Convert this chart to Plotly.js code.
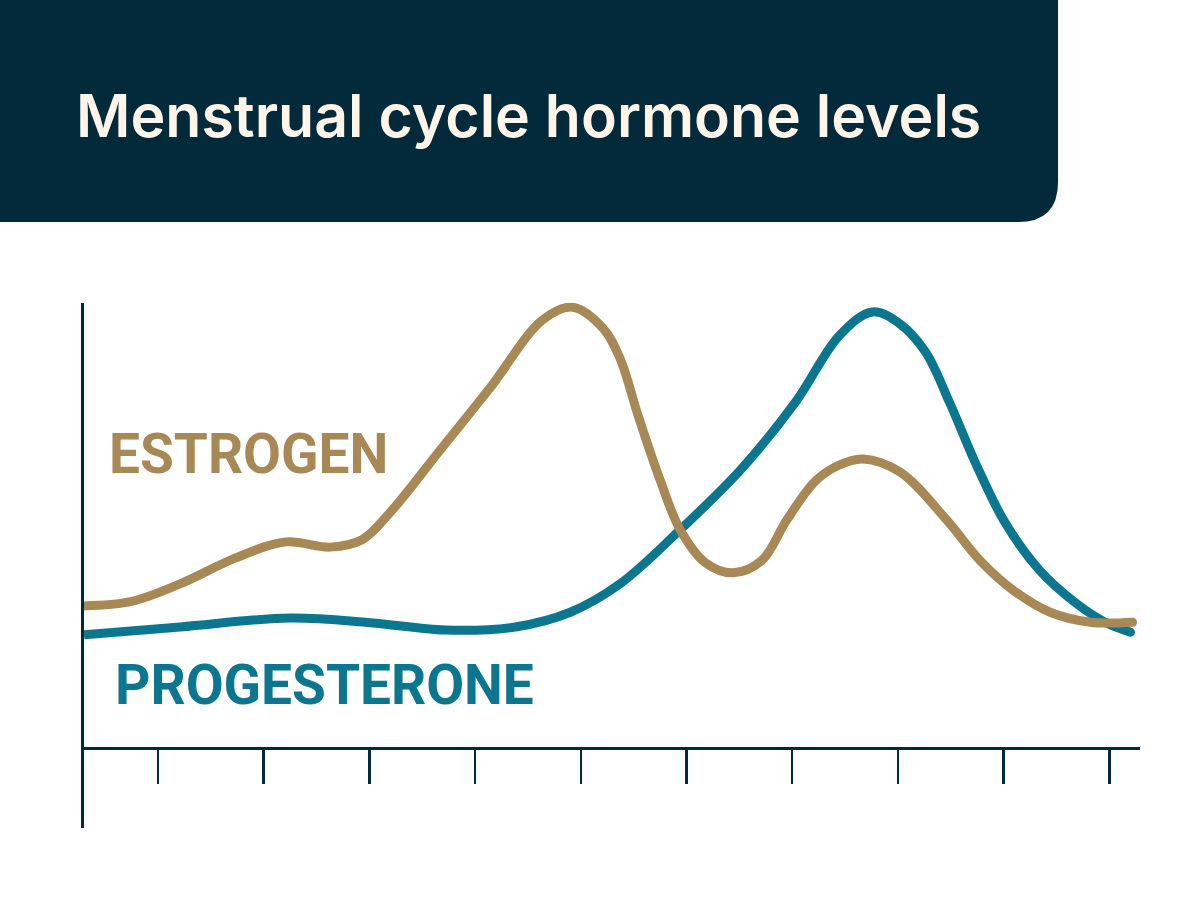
<!DOCTYPE html>
<html>
<head>
<meta charset="utf-8">
<script src="https://cdn.plot.ly/plotly-3.0.1.min.js"></script>
<style>
  html, body { margin: 0; padding: 0; background: #ffffff; }
  #chart { width: 1201px; height: 901px; }
</style>
</head>
<body>
<div id="chart"></div>
<script>
// ---- Data ----
const chartTitle = "Menstrual cycle hormone levels";
const tickPositions = [1, 2, 3, 4, 5, 6, 7, 8, 9, 10];

const estrogenLabel = "ESTROGEN";
const estrogenX = [0.30, 0.74, 1.21, 1.73, 2.21, 2.63, 2.93, 3.20, 3.67, 4.14, 4.64, 4.92, 5.21, 5.37, 5.54, 5.75, 5.94, 6.18, 6.44, 6.71, 6.95, 7.22, 7.43, 7.67, 8.02, 8.46, 8.78, 9.11, 9.44, 9.82, 10.22];
const estrogenY = [42.3, 43.1, 46.5, 51.4, 54.5, 53.5, 54.9, 60.2, 72.0, 83.8, 96.8, 99.2, 95.2, 89.5, 78.7, 66.3, 56.8, 50.5, 48.6, 50.9, 58.7, 66.1, 69.0, 70.3, 67.8, 58.7, 50.9, 45.0, 41.1, 39.2, 39.2];

const progesteroneLabel = "PROGESTERONE";
const progesteroneX = [0.30, 1.21, 2.25, 3.01, 3.72, 4.38, 4.90, 5.37, 5.94, 6.51, 7.03, 7.45, 7.76, 8.02, 8.26, 8.49, 8.73, 9.01, 9.34, 9.68, 9.96, 10.20];
const progesteroneY = [36.8, 38.3, 40.0, 39.1, 37.7, 38.3, 41.1, 46.5, 56.8, 68.2, 81.1, 93.9, 98.3, 96.0, 90.7, 81.0, 69.7, 58.3, 49.1, 42.9, 39.2, 37.3];

// ---- Styles ----
const estrogenColor = "#a88854";
const progesteroneColor = "#0b7690";
const navy = "#032a3a";
const cream = "#fff4e8";
const lineW = 9;

const W = 1201, H = 901;
const M = { l: 84, r: 61, t: 303, b: 73 };
const plotW = W - M.l - M.r, plotH = H - M.t - M.b;
const px2x = p => (p - M.l) / plotW;
const py2y = p => (H - M.b - p) / plotH;

// round end cap imitation: a marker only at the last point
const capSizes = arr => arr.map((_, i) => (i === arr.length - 1 ? lineW : 0));

const traces = [
  { x: progesteroneX, y: progesteroneY, name: progesteroneLabel, type: "scatter", mode: "lines+markers",
    line: { color: progesteroneColor, width: lineW, shape: "spline", smoothing: 1 },
    marker: { color: progesteroneColor, size: capSizes(progesteroneX), opacity: 1, line: { width: 0 } },
    cliponaxis: false, hoverinfo: "skip" },
  { x: estrogenX, y: estrogenY, name: estrogenLabel, type: "scatter", mode: "lines+markers",
    line: { color: estrogenColor, width: lineW, shape: "spline", smoothing: 1 },
    marker: { color: estrogenColor, size: capSizes(estrogenX), opacity: 1, line: { width: 0 } },
    cliponaxis: false, hoverinfo: "skip" }
];

const r = 40;
const bx1 = px2x(1058), by0 = py2y(0), by1 = py2y(222), bx0 = px2x(0);
const rx = r / plotW, ry = r / plotH;

const layout = {
  width: W, height: H,
  margin: M,
  paper_bgcolor: "#ffffff",
  plot_bgcolor: "rgba(0,0,0,0)",
  showlegend: false,
  title: {
    text: chartTitle,
    font: { family: "Inter, Roboto, sans-serif", size: 59, color: cream, weight: 600 },
    xref: "container", yref: "container",
    x: 76 / W, xanchor: "left",
    y: 1 - 116 / H, yanchor: "middle"
  },
  xaxis: {
    range: [1 + (84 - 158) / 105.7, 1 + (1140 - 158) / 105.7],
    anchor: "free", position: (828 - 748) / plotH,
    showline: true, linecolor: navy, linewidth: 3,
    tickmode: "array", tickvals: tickPositions, showticklabels: false,
    ticks: "outside", ticklen: 34, tickwidth: 2.5, tickcolor: navy,
    showgrid: false, zeroline: false, fixedrange: true
  },
  yaxis: {
    range: [0, 100],
    showline: true, linecolor: navy, linewidth: 3,
    showticklabels: false, ticks: "", showgrid: false, zeroline: false, fixedrange: true
  },
  shapes: [{
    type: "path", xref: "paper", yref: "paper", layer: "below",
    path: `M ${bx0} ${by0} L ${bx1} ${by0} L ${bx1} ${by1 + ry} Q ${bx1} ${by1} ${bx1 - rx} ${by1} L ${bx0} ${by1} Z`,
    fillcolor: navy, line: { width: 0 }
  }],
  annotations: [
    { text: estrogenLabel, xref: "paper", yref: "paper", x: px2x(107), y: py2y(454),
      xanchor: "left", yanchor: "middle", showarrow: false,
      font: { family: "Roboto, sans-serif", size: 55, color: estrogenColor, weight: 700 } },
    { text: progesteroneLabel, xref: "paper", yref: "paper", x: px2x(113), y: py2y(685),
      xanchor: "left", yanchor: "middle", showarrow: false,
      font: { family: "Roboto, sans-serif", size: 55, color: progesteroneColor, weight: 700 } }
  ]
};

Plotly.newPlot("chart", traces, layout, { staticPlot: true, displayModeBar: false });
</script>
</body>
</html>
